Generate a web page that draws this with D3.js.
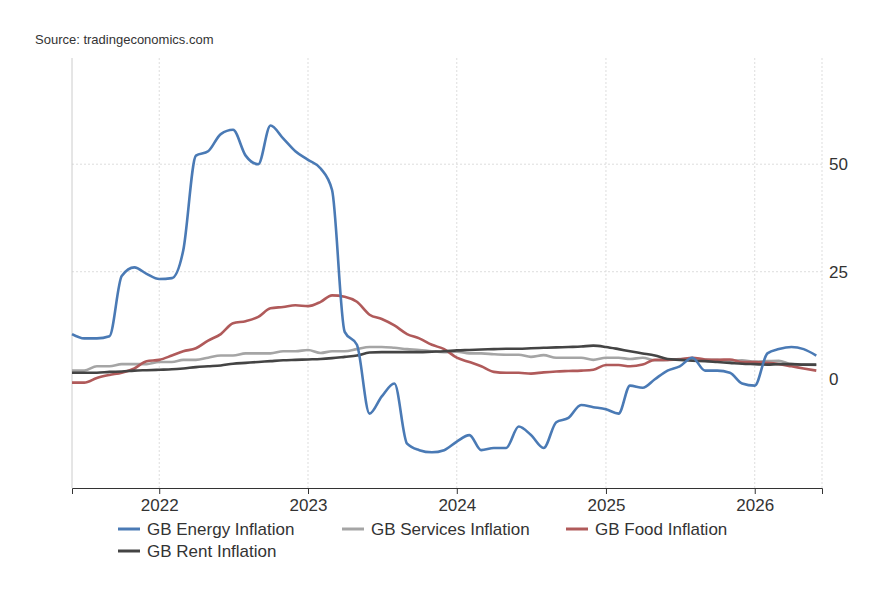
<html>
<head>
<meta charset="UTF-8" />
<script src="https://d3js.org/d3.v7.min.js"></script>
<style>
  body { margin:0; background:#fff; font-family: Arial, "Liberation Sans", sans-serif; }
</style>
</head>
<body>
<div id="chart"></div>
<script>
  // monthly values, Jun 2021 .. Jun 2026
  var data = {
    "GB Energy Inflation": [10.5,9.5,9.5,10,24,26,24.5,
      23.3,23.5,30,52,53,57,58,52,50,59,56,53,
      51,49,44,11,8,-8,-4,-1,-15,-16.5,-17,-16.5,
      -14.5,-13,-16.5,-16,-16,-11,-13,-16,-10,-9,-6,-6.5,
      -7,-8,-1.5,-2,0,2,3,5,2,2,1.5,-1,
      -1.5,6,7,7.5,7,5.5],
    "GB Services Inflation": [2,2,3,3,3.5,3.5,3.5,
      4,4,4.5,4.5,5,5.5,5.5,6,6,6,6.5,6.5,
      6.8,6.1,6.5,6.5,7,7.5,7.5,7.3,7,6.8,6.5,6.3,
      6.4,6,6,5.8,5.7,5.7,5.2,5.6,5,5,5,4.5,
      5,5,4.7,5,4.4,4.5,4.7,4.7,4.5,4.5,4.3,4.4,
      4.1,4.2,4.3,3.5,3.4,3.3],
    "GB Food Inflation": [-0.8,-0.8,0.3,1,1.5,2.5,4.2,
      4.5,5.5,6.5,7.2,9,10.5,13,13.5,14.5,16.5,16.8,17.2,
      17,18,19.5,19.2,18,15,14,12.5,10.5,9.5,8,7,
      5,4,3,1.7,1.5,1.5,1.3,1.6,1.8,1.9,2,2.2,
      3.3,3.3,3.0,3.4,4.5,4.5,4.6,5,4.6,4.5,4.6,4,
      4,3.8,3.5,3,2.5,2],
    "GB Rent Inflation": [1.5,1.5,1.5,1.7,1.8,2,2.1,
      2.2,2.3,2.5,2.8,3,3.2,3.6,3.8,4,4.2,4.4,4.5,
      4.6,4.7,4.9,5.2,5.5,6.2,6.3,6.3,6.3,6.3,6.4,6.5,
      6.7,6.8,6.9,7,7.1,7.1,7.2,7.3,7.4,7.5,7.6,7.8,
      7.5,7,6.5,6,5.5,4.7,4.5,4.3,4.2,4,3.8,3.6,
      3.5,3.4,3.5,3.5,3.4,3.4]
  };
  var colors = {
    "GB Energy Inflation": "#4a7ab5",
    "GB Services Inflation": "#a5a5a5",
    "GB Food Inflation": "#b05a5a",
    "GB Rent Inflation": "#444444"
  };

  var W = 876, H = 598;
  var pLeft = 72, pRight = 822, pTop = 58, pBottom = 488;

  var svg = d3.select("#chart").append("svg").attr("width", W).attr("height", H);

  var x = d3.scaleTime()
    .domain([new Date(2021, 5, 1), new Date(2026, 5, 15)])
    .range([pLeft, pRight]);
  var y = d3.scaleLinear().domain([-25.3, 74.7]).range([pBottom, pTop]);

  svg.append("text").attr("x", 35).attr("y", 44)
    .style("font-size", "13px").style("fill", "#333")
    .text("Source: tradingeconomics.com");

  // grid
  var years = [2022, 2023, 2024, 2025, 2026].map(function(d){ return new Date(d, 0, 1); });
  svg.append("g").selectAll("line").data(years).enter().append("line")
    .attr("x1", x).attr("x2", x).attr("y1", pTop).attr("y2", pBottom)
    .attr("stroke", "#ddd").attr("stroke-dasharray", "2,2");
  svg.append("g").selectAll("line").data([25, 50]).enter().append("line")
    .attr("x1", pLeft).attr("x2", pRight).attr("y1", y).attr("y2", y)
    .attr("stroke", "#ddd").attr("stroke-dasharray", "2,2");
  svg.append("line").attr("x1", pRight).attr("x2", pRight).attr("y1", pTop).attr("y2", pBottom)
    .attr("stroke", "#ddd").attr("stroke-dasharray", "2,2");
  svg.append("line").attr("x1", pLeft).attr("x2", pLeft).attr("y1", pTop).attr("y2", pBottom)
    .attr("stroke", "#ccc");

  // axes
  var xa = svg.append("g").attr("transform", "translate(0," + pBottom + ")")
    .call(d3.axisBottom(x).tickValues(years).tickFormat(d3.timeFormat("%Y")).tickSize(6).tickPadding(5));
  xa.select(".domain").attr("stroke", "#333");
  xa.selectAll("line").attr("stroke", "#333");
  xa.selectAll("text").style("font-size", "17px").style("fill", "#333").style("font-family", "Arial, Liberation Sans");

  var ya = svg.append("g").attr("transform", "translate(" + pRight + ",0)")
    .call(d3.axisRight(y).tickValues([0, 25, 50]).tickSize(0).tickPadding(7));
  ya.select(".domain").remove();
  ya.selectAll("text").style("font-size", "17px").style("fill", "#333").style("font-family", "Arial, Liberation Sans");

  var line = d3.line()
    .x(function(d, i){ return x(new Date(2021, 5 + i, 1)); })
    .y(function(d){ return y(d); })
    .curve(d3.curveMonotoneX);

  var names = ["GB Services Inflation", "GB Food Inflation", "GB Rent Inflation", "GB Energy Inflation"];
  names.forEach(function(n){
    svg.append("path").datum(data[n]).attr("d", line)
      .attr("fill", "none").attr("stroke", colors[n]).attr("stroke-width", 2.6)
      .attr("stroke-linejoin", "round");
  });

  // legend
  var leg = [
    ["GB Energy Inflation", 118, 529], ["GB Services Inflation", 342, 529],
    ["GB Food Inflation", 566, 529], ["GB Rent Inflation", 118, 551]
  ];
  leg.forEach(function(l){
    svg.append("line").attr("x1", l[1]).attr("x2", l[1] + 22).attr("y1", l[2]).attr("y2", l[2])
      .attr("stroke", colors[l[0]]).attr("stroke-width", 3);
    svg.append("text").attr("x", l[1] + 29).attr("y", l[2] + 6)
      .style("font-size", "17px").style("fill", "#333").text(l[0]);
  });
</script>
</body>
</html>
